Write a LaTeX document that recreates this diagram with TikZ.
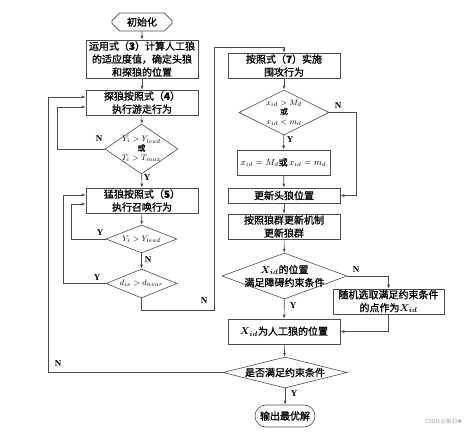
\documentclass[tikz,border=0pt]{standalone}
\usepackage{amsmath}
\usepackage{bm}
\usepackage{fontspec}
\setmainfont{Liberation Serif}
\newfontfamily\cjk{Noto Sans CJK SC}[FakeBold=1.2]
\newfontfamily\cjkthin{Noto Sans CJK SC}
\usetikzlibrary{shapes.geometric,shapes.misc,arrows.meta}
\newcommand{\Xid}{\ensuremath{\bm{X_{id}}}}
\begin{document}
\begin{tikzpicture}[x=1pt,y=-1pt,
  line width=0.6pt,
  arr/.style={draw=black!70,-{Latex[length=4pt,width=3pt]}},
  box/.style={draw=black!70,rectangle,inner sep=0pt,align=center,font=\cjk\fontsize{10}{13}\selectfont},
  dia/.style={draw=black!70,diamond,inner sep=0pt},
  dtext/.style={align=center,font=\cjk\fontsize{8}{9.5}\selectfont},
  yn/.style={font=\bfseries\fontsize{9}{9}\selectfont}]
\path[use as bounding box] (0,0) rectangle (474,432);
% left column
\node[draw=black!70,chamfered rectangle,chamfered rectangle xsep=8pt,minimum width=60,minimum height=18,inner sep=0pt,font=\cjk\fontsize{10}{12}\selectfont] (init) at (142,22) {初始化};
\node[box,minimum width=112,minimum height=38] (b1) at (142,59) {运用式（\textbf{3}）计算人工狼\\的适应度值，确定头狼\\和探狼的位置};
\node[box,minimum width=112,minimum height=25] (b2) at (142,102.5) {探狼按照式（\textbf{4}）\\执行游走行为};
\node[dia,minimum width=73,minimum height=50] (d1) at (141.5,149) {};
\node[dtext] (t1) at (d1) {$Y_i > Y_{lead}$\\或\\$T_i > T_{max}$};
\node[box,minimum width=112,minimum height=25] (b3) at (142,200.5) {猛狼按照式（\textbf{5}）\\执行召唤行为};
\node[dia,minimum width=71,minimum height=28] (d2) at (141.5,239) {};
\node[dtext] (t2) at (d2) {$Y_i > Y_{lead}$};
\node[dia,minimum width=71,minimum height=29] (d3) at (141.5,283.5) {};
\node[dtext] (t3) at (d3) {$d_{is} > d_{near}$};
% right column
\node[box,minimum width=112,minimum height=25] (b7) at (284,65.5) {按照式（\textbf{7}）实施\\围攻行为};
\node[dia,minimum width=90,minimum height=45] (d4) at (284,112.5) {};
\node[dtext] (t4) at (d4) {$x_{id} > M_d$\\或\\$x_{id} < m_d$};
\node[box,minimum width=93,minimum height=25,font=\cjk\fontsize{9}{11}\selectfont] (bx) at (283.5,162.5) {$x_{id} = M_d$或$\,x_{id} = m_d$};
\node[box,minimum width=112,minimum height=15] (bh) at (284,195.5) {更新头狼位置};
\node[box,minimum width=112,minimum height=25] (bu) at (284,226.5) {按照狼群更新机制\\更新狼群};
\node[dia,minimum width=125,minimum height=46] (d5) at (284.5,276) {};
\node[align=center,font=\cjk\fontsize{10}{13}\selectfont] (t5) at (d5) {\Xid 的位置\\满足障碍约束条件};
\node[box,minimum width=111,minimum height=25] (br) at (388.5,301.5) {随机选取满足约束条件\\的点作为\Xid};
\node[box,minimum width=112,minimum height=25] (bX) at (284,331.5) {\Xid 为人工狼的位置};
\node[dia,minimum width=124,minimum height=31] (d6) at (285,372.5) {};
\node[align=center,font=\cjk\fontsize{10}{12}\selectfont] (t6) at (d6) {是否满足约束条件};
\node[draw=black!70,rectangle,rounded corners=11pt,minimum width=60,minimum height=22,inner sep=0pt,font=\cjk\fontsize{10}{12}\selectfont] (term) at (285,416) {输出最优解};
% connectors
\draw[arr] (init) -- (b1);
\draw[arr] (b1) -- (b2);
\draw[arr] (b2) -- (d1);
\draw[arr] (d1) -- (b3);
\draw[arr] (d1.west) -- ++(-47,0) |- ([yshift=-4.5pt]b2.west);
\draw[arr] (b3) -- (d2);
\draw[arr] (d2) -- (d3);
\draw[arr] (d2.west) -- ++(-34,0) |- ([yshift=-3.5pt]b3.west);
\draw[arr] (d3.west) -- ++(-42,0) |- ([yshift=5.5pt]b3.west);
\draw[arr] (d3.south) -- ++(0,12) -| (214,47) -| (b7.north);
\draw[arr] (b7) -- (d4);
\draw[arr] (d4) -- (bx);
\draw[arr] (bx) -- (bh);
\draw[arr] (d4.east) -- ++(27,0) |- (bh.east);
\draw[arr] (bh) -- (bu);
\draw[arr] (bu) -- (d5);
\draw[arr] (d5.east) -| (br.north);
\draw[arr] (br.south) |- (bX.east);
\draw[arr] (d5) -- (bX);
\draw[arr] (bX) -- (d6);
\draw[arr] (d6.west) -- (48,372.5) |- ([yshift=5.5pt]b2.west);
\draw[arr] (d6) -- (term);
% labels
\node[yn] at (99,139) {N};
\node[yn] at (147,178) {Y};
\node[yn] at (100,233) {Y};
\node[yn] at (148,260) {N};
\node[yn] at (97,278) {Y};
\node[yn] at (204,301) {N};
\node[yn] at (338,106) {N};
\node[yn] at (290,140) {Y};
\node[yn] at (356,270) {N};
\node[yn] at (293,306) {Y};
\node[yn] at (58,364) {N};
\node[yn] at (294,394) {Y};
\node[text=black!35,font=\cjkthin\fontsize{5.5}{6}\selectfont] at (444,422) {CSDN @慕羽★};
\end{tikzpicture}
\end{document}
